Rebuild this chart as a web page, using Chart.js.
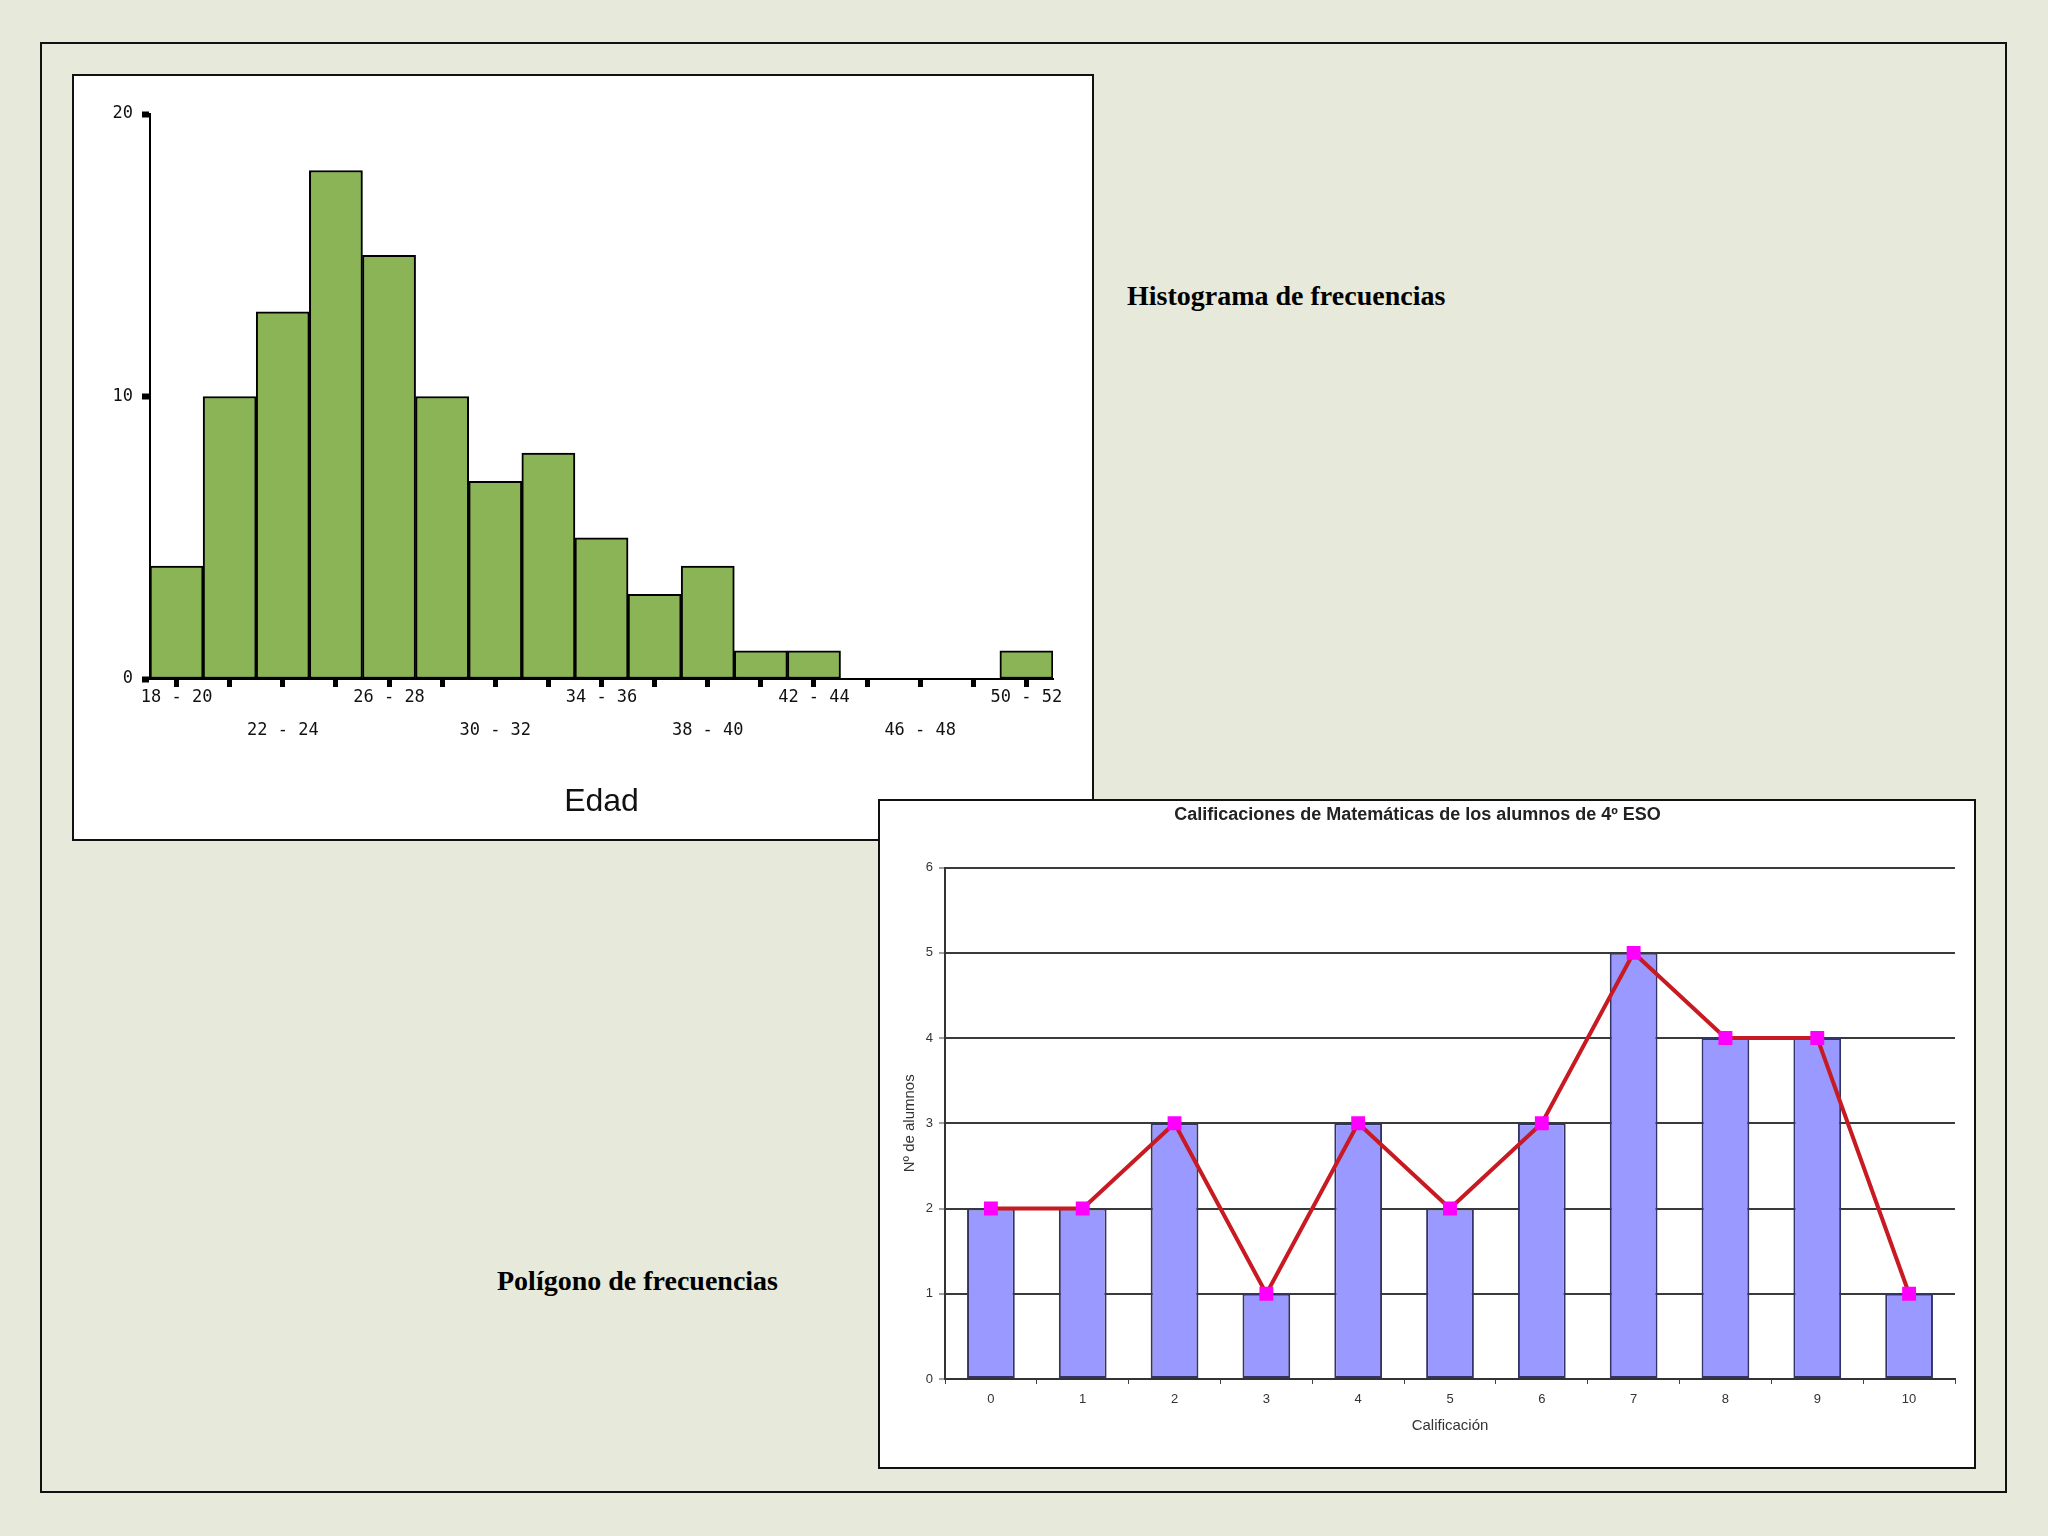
<!DOCTYPE html>
<html>
<head>
<meta charset="utf-8">
<script src="https://cdn.jsdelivr.net/npm/chart.js@4"></script>
<style>
  body { margin: 0; width: 2048px; height: 1536px; background: #E7E9DA; position: relative; overflow: hidden; }
  .box { position: absolute; box-sizing: border-box; border: 2px solid #111; }
  .note { position: absolute; font: bold 28px "Liberation Serif", "Times New Roman", serif; line-height: 28px; color: #000; white-space: nowrap; }
  canvas { display: block; }
</style>
</head>
<body>
<div class="box" style="left:40px;top:42px;width:1967px;height:1451px;"></div>
<div class="box" style="left:72px;top:74px;width:1022px;height:767px;background:#fff;">
  <canvas id="hist" width="1018" height="763"></canvas>
</div>
<div class="note" style="left:1127px;top:282px;">Histograma de frecuencias</div>
<div class="note" style="left:497px;top:1267px;">Polígono de frecuencias</div>
<div class="box" style="left:878px;top:799px;width:1098px;height:670px;background:#fff;z-index:2;">
  <canvas id="poly" width="1094" height="666"></canvas>
</div>
<script>
// histograma: edades en intervalos de 2 años
const edades = ['18 - 20', '20 - 22', '22 - 24', '24 - 26', '26 - 28', '28 - 30', '30 - 32', '32 - 34',
  '34 - 36', '36 - 38', '38 - 40', '40 - 42', '42 - 44', '44 - 46', '46 - 48', '48 - 50', '50 - 52'];
const frecEdad = [4, 10, 13, 18, 15, 10, 7, 8, 5, 3, 4, 1, 1, 0, 0, 0, 1];
const ticksEdad = [0, 10, 20];

// calificaciones de matematicas
const notas = ['0', '1', '2', '3', '4', '5', '6', '7', '8', '9', '10'];
const alumnos = [2, 2, 3, 1, 3, 2, 3, 5, 4, 4, 1];

Chart.defaults.animation = false;
Chart.defaults.devicePixelRatio = 1;

new Chart(document.getElementById('hist'), {
  type: 'bar',
  data: {
    labels: edades,
    datasets: [{
      data: frecEdad,
      backgroundColor: '#8AB456',
      borderColor: '#000',
      borderWidth: 2,
      borderSkipped: false,
      barPercentage: 1,
      categoryPercentage: 1
    }]
  },
  options: {
    responsive: false,
    layout: { padding: { left: 0, right: 39, top: 38, bottom: 0 } },
    plugins: { legend: { display: false }, tooltip: { enabled: false } },
    scales: {
      x: {
        afterFit: s => { s.height = 160; },
        grid: { offset: false, drawOnChartArea: false, tickLength: 8, tickWidth: 5, tickColor: '#000' },
        border: { color: '#000', width: 2 },
        ticks: {
          autoSkip: false, maxRotation: 0, padding: -6, color: '#111',
          font: { family: 'DejaVu Sans Mono', size: 17, lineHeight: 1.94 },
          callback: (v, i) => i % 4 === 0 ? edades[i] : (i % 4 === 2 ? ['', edades[i]] : '')
        },
        title: { display: true, text: 'Edad', color: '#111', padding: { top: 0, bottom: 18 },
          font: { family: 'Liberation Sans', size: 32 } }
      },
      y: {
        min: 0, max: 20,
        afterFit: s => { s.width = 76; },
        afterBuildTicks: s => { s.ticks = ticksEdad.map(v => ({ value: v })); },
        grid: { drawOnChartArea: false, tickLength: 8, tickWidth: 6, tickColor: '#000' },
        border: { color: '#000', width: 2 },
        ticks: { padding: 9, color: '#111', font: { family: 'DejaVu Sans Mono', size: 17 } }
      }
    }
  }
});

new Chart(document.getElementById('poly'), {
  type: 'bar',
  data: {
    labels: notas,
    datasets: [{
      type: 'line',
      data: alumnos,
      order: 0,
      borderColor: '#C81A22',
      borderWidth: 4,
      pointStyle: 'rect',
      pointRadius: 7,
      pointBackgroundColor: '#FF00FF',
      pointBorderColor: '#FF00FF',
      tension: 0
    }, {
      data: alumnos,
      order: 1,
      backgroundColor: '#9999FF',
      borderColor: '#333366',
      borderWidth: 2,
      borderSkipped: false,
      barPercentage: 0.52,
      categoryPercentage: 1
    }]
  },
  options: {
    responsive: false,
    layout: { padding: { left: 0, right: 19, top: 0, bottom: 0 } },
    plugins: {
      legend: { display: false },
      tooltip: { enabled: false },
      title: {
        display: true,
        text: 'Calificaciones de Matemáticas de los alumnos de 4º ESO',
        color: '#222',
        font: { family: 'Liberation Sans', size: 18, weight: 'bold' },
        padding: { top: 3, bottom: 42 }
      }
    },
    scales: {
      x: {
        afterFit: s => { s.height = 88; },
        grid: { drawOnChartArea: false, tickLength: 5, tickWidth: 1, tickColor: '#444' },
        border: { color: '#333', width: 2 },
        ticks: { padding: 8, color: '#333', font: { family: 'Liberation Sans', size: 13 } },
        title: { display: true, text: 'Calificación', color: '#333', padding: { top: 0, bottom: 32 },
          font: { family: 'Liberation Sans', size: 15 } }
      },
      y: {
        min: 0, max: 6,
        afterFit: s => { s.width = 65; },
        grid: { color: '#3A3A3A', lineWidth: 2, tickLength: 6, tickWidth: 1, tickColor: '#444' },
        border: { color: '#333', width: 2 },
        ticks: { stepSize: 1, padding: 6, color: '#333', font: { family: 'Liberation Sans', size: 13 } },
        title: { display: true, text: 'Nº de alumnos', color: '#333', padding: { top: 21, bottom: 0 },
          font: { family: 'Liberation Sans', size: 15 } }
      }
    }
  }
});
</script>
</body>
</html>
